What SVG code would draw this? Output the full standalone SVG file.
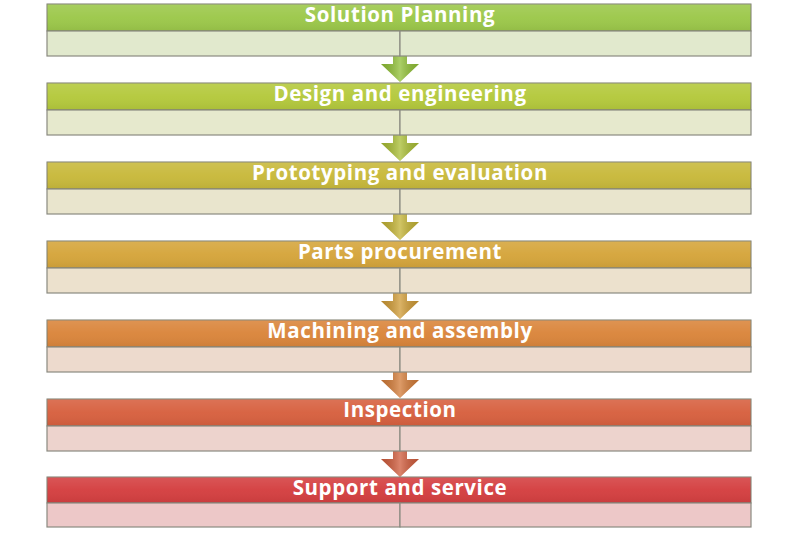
<svg xmlns="http://www.w3.org/2000/svg" width="800" height="534" viewBox="0 0 800 534">
<defs>
<linearGradient id="gloss" x1="0" y1="0" x2="0" y2="1">
<stop offset="0" stop-color="#fff" stop-opacity="0.12"/>
<stop offset="0.5" stop-color="#fff" stop-opacity="0.03"/>
<stop offset="1" stop-color="#000" stop-opacity="0.06"/>
</linearGradient>
<linearGradient id="arrg" x1="0" y1="0" x2="1" y2="0">
<stop offset="0" stop-color="#000" stop-opacity="0.12"/>
<stop offset="0.5" stop-color="#fff" stop-opacity="0.25"/>
<stop offset="1" stop-color="#000" stop-opacity="0.12"/>
</linearGradient>
<path id="arrow" d="M393,0 H407 V8 H419 L400,26 L381,8 H393 Z"/>
</defs>
<style>
.hdr{stroke:#7a7a6a;stroke-width:1}
.sub{stroke:#8a8a80;stroke-width:1.2}
.t{font-family:"Open Sans","Liberation Sans",sans-serif;font-weight:bold;font-size:20.5px;letter-spacing:0.6px;fill:#fff;text-anchor:middle}
</style>
<g id="connectors">
<g transform="translate(0,56)"><use href="#arrow" fill="#8fbf34"/><use href="#arrow" fill="url(#arrg)"/></g>
<g transform="translate(0,135)"><use href="#arrow" fill="#a8bd32"/><use href="#arrow" fill="url(#arrg)"/></g>
<g transform="translate(0,214)"><use href="#arrow" fill="#c2b232"/><use href="#arrow" fill="url(#arrg)"/></g>
<g transform="translate(0,293)"><use href="#arrow" fill="#cf9a34"/><use href="#arrow" fill="url(#arrg)"/></g>
<g transform="translate(0,372)"><use href="#arrow" fill="#d27a36"/><use href="#arrow" fill="url(#arrg)"/></g>
<g transform="translate(0,451)"><use href="#arrow" fill="#cf5a3a"/><use href="#arrow" fill="url(#arrg)"/></g>
</g>
<g id="node1">
<rect x="47" y="4" width="704" height="27" fill="#9cc84a" class="hdr"/>
<rect x="47" y="4" width="704" height="27" fill="url(#gloss)"/>
<rect x="47" y="31" width="353" height="25" fill="#e1e9cd" class="sub"/>
<rect x="400" y="31" width="351" height="25" fill="#e1e9cd" class="sub"/>
<text x="400" y="22" class="t">Solution Planning</text>
</g>
<g id="node2">
<rect x="47" y="83" width="704" height="27" fill="#b4c93c" class="hdr"/>
<rect x="47" y="83" width="704" height="27" fill="url(#gloss)"/>
<rect x="47" y="110" width="353" height="25" fill="#e6e9cd" class="sub"/>
<rect x="400" y="110" width="351" height="25" fill="#e6e9cd" class="sub"/>
<text x="400" y="101" class="t">Design and engineering</text>
</g>
<g id="node3">
<rect x="47" y="162" width="704" height="27" fill="#c8b93b" class="hdr"/>
<rect x="47" y="162" width="704" height="27" fill="url(#gloss)"/>
<rect x="47" y="189" width="353" height="25" fill="#e9e5cd" class="sub"/>
<rect x="400" y="189" width="351" height="25" fill="#e9e5cd" class="sub"/>
<text x="400" y="180" class="t">Prototyping and evaluation</text>
</g>
<g id="node4">
<rect x="47" y="241" width="704" height="27" fill="#d5a53b" class="hdr"/>
<rect x="47" y="241" width="704" height="27" fill="url(#gloss)"/>
<rect x="47" y="268" width="353" height="25" fill="#ece1cd" class="sub"/>
<rect x="400" y="268" width="351" height="25" fill="#ece1cd" class="sub"/>
<text x="400" y="259" class="t">Parts procurement</text>
</g>
<g id="node5">
<rect x="47" y="320" width="704" height="27" fill="#da853b" class="hdr"/>
<rect x="47" y="320" width="704" height="27" fill="url(#gloss)"/>
<rect x="47" y="347" width="353" height="25" fill="#eddacd" class="sub"/>
<rect x="400" y="347" width="351" height="25" fill="#eddacd" class="sub"/>
<text x="400" y="338" class="t">Machining and assembly</text>
</g>
<g id="node6">
<rect x="47" y="399" width="704" height="27" fill="#d7603f" class="hdr"/>
<rect x="47" y="399" width="704" height="27" fill="url(#gloss)"/>
<rect x="47" y="426" width="353" height="25" fill="#edd3cd" class="sub"/>
<rect x="400" y="426" width="351" height="25" fill="#edd3cd" class="sub"/>
<text x="400" y="417" class="t">Inspection</text>
</g>
<g id="node7">
<rect x="47" y="477" width="704" height="26" fill="#d43f40" class="hdr"/>
<rect x="47" y="477" width="704" height="26" fill="url(#gloss)"/>
<rect x="47" y="503" width="353" height="24" fill="#edc8c8" class="sub"/>
<rect x="400" y="503" width="351" height="24" fill="#edc8c8" class="sub"/>
<text x="400" y="495" class="t">Support and service</text>
</g>
</svg>
